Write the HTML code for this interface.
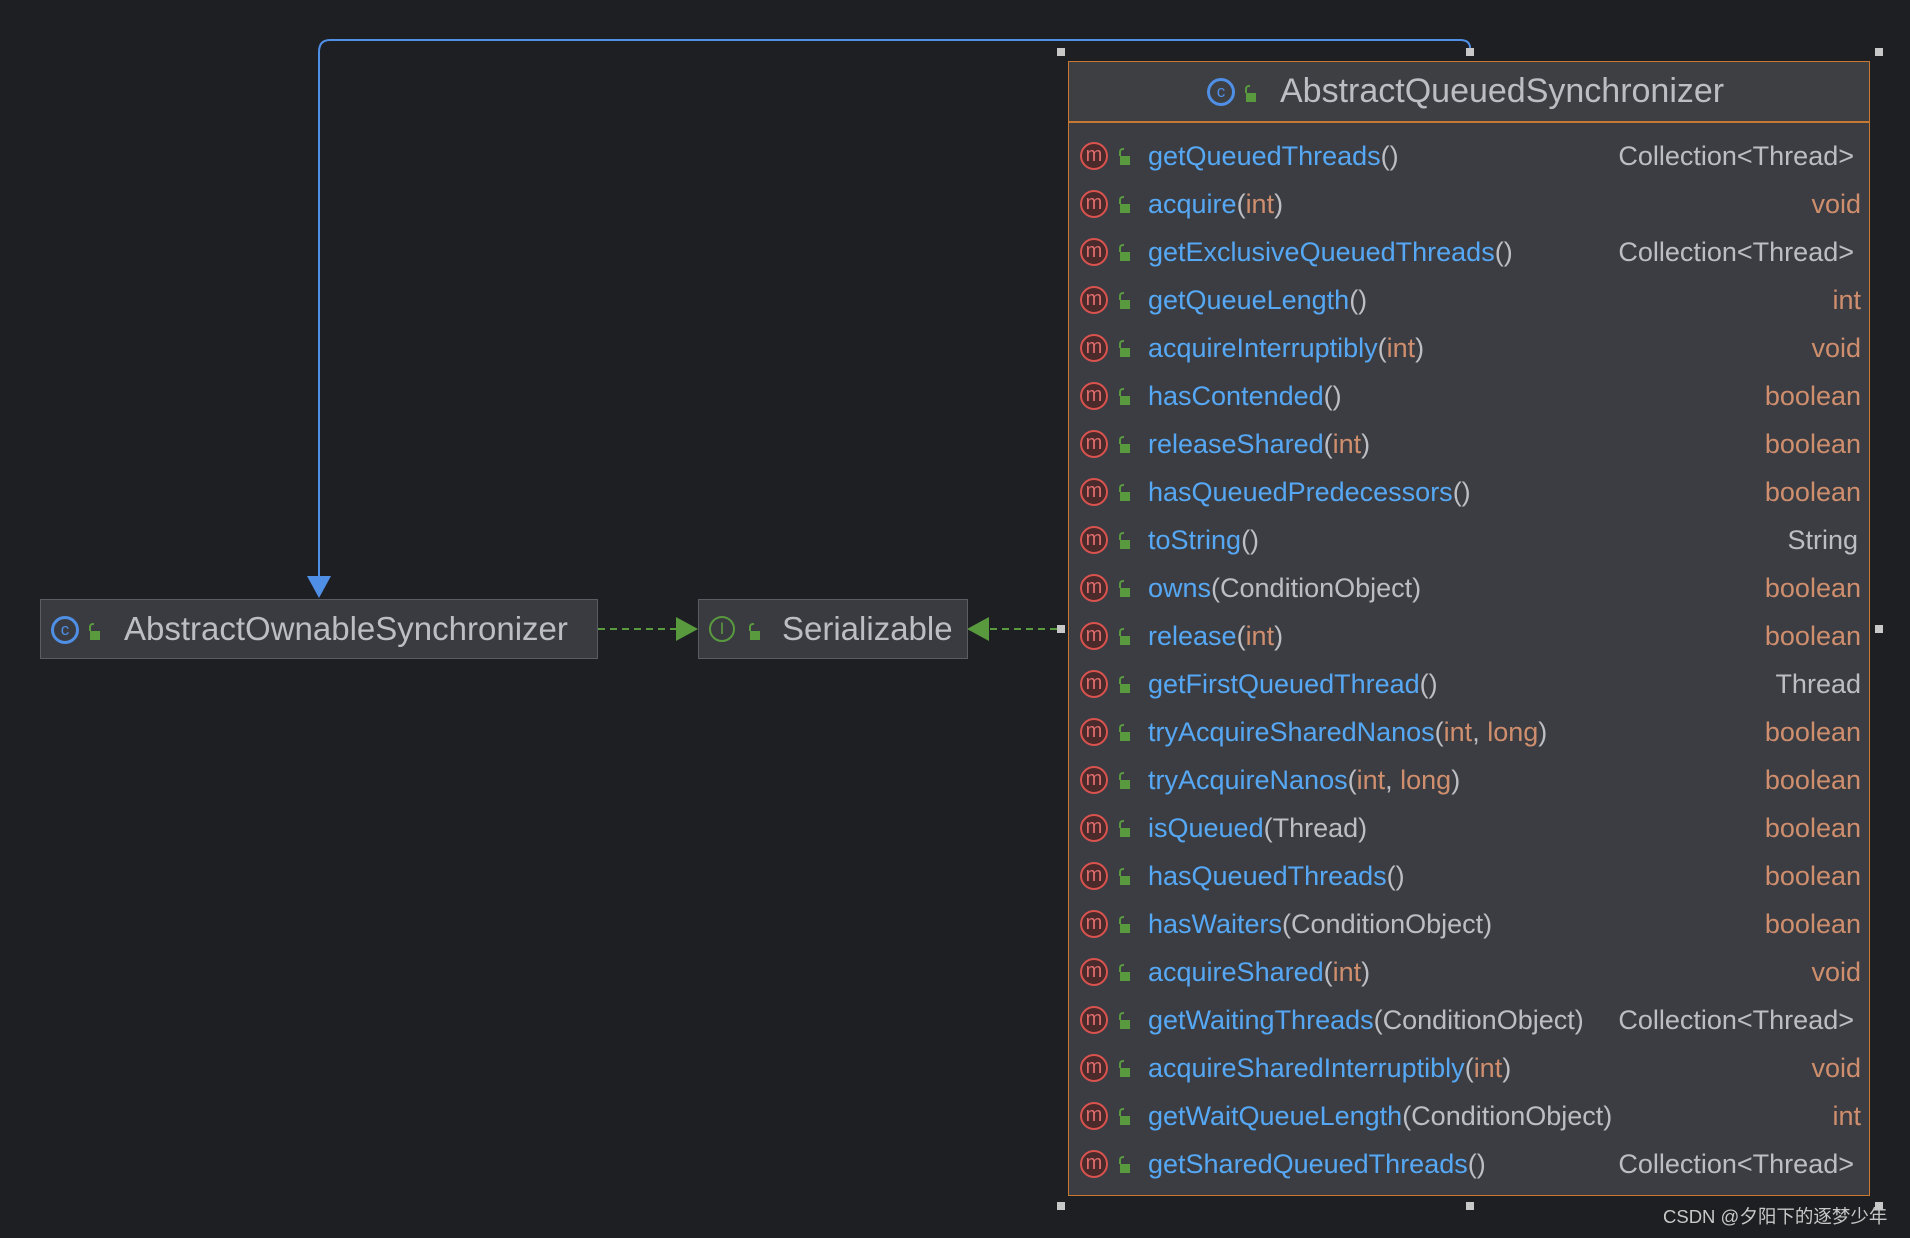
<!DOCTYPE html>
<html><head><meta charset="utf-8"><style>
body{margin:0;width:1910px;height:1238px;background:#1e1f22;overflow:hidden;position:relative;font-family:"Liberation Sans","Noto Sans CJK SC",sans-serif}
.abs{position:absolute}
.box{position:absolute;background:#393b40;border:1px solid #5a5d63;box-sizing:border-box}
.row{position:absolute;left:0;width:100%;height:48px;font-size:27px;line-height:48px;color:#bcbec4}
.m{position:absolute;left:1080px;width:24px;height:24px;border:2px solid #d9534f;border-radius:50%;background:#4a2a2a;color:#e06c6c;font-size:20px;line-height:22px;text-align:center;box-sizing:content-box}
.lk{position:absolute;width:10px;height:9px;background:#5a9a3f}
.lk:before{content:"";position:absolute;left:-1px;top:-8px;width:5px;height:8px;border:2px solid #5a9a3f;border-right:none;border-bottom:none;border-radius:4px 0 0 0;box-sizing:border-box}
.n{color:#56a8f5}.o{color:#cf8e6d}
.t{position:absolute;left:1148px;white-space:nowrap}
.r{position:absolute;right:49px;white-space:nowrap}
.h{position:absolute;width:8px;height:8px;background:#c8c8c8}
</style></head><body>
<svg class="abs" style="left:0;top:0" width="1910" height="1238">
<path d="M1470 52 L1470 48 Q1470 40 1460 40 L330 40 Q319 40 319 52 L319 578" fill="none" stroke="#4f8fe6" stroke-width="2"/>
<polygon points="307,576 331,576 319,598" fill="#4f8fe6"/>
<line x1="598" y1="629" x2="678" y2="629" stroke="#5a9a3f" stroke-width="2" stroke-dasharray="7,5"/>
<polygon points="676,617 698,629 676,641" fill="#5a9a3f"/>
<line x1="990" y1="629" x2="1061" y2="629" stroke="#5a9a3f" stroke-width="2" stroke-dasharray="7,5"/>
<polygon points="989,617 967,629 989,641" fill="#5a9a3f"/>
</svg>

<div class="box" style="left:40px;top:599px;width:558px;height:60px"></div>
<div class="abs" style="left:51px;top:616px;width:22px;height:22px;border:3px solid #4f8fe6;border-radius:50%;color:#4f8fe6;font-size:17px;line-height:22px;text-align:center">c</div>
<div class="lk" style="left:90px;top:631px"></div>
<div class="abs" style="left:124px;top:605px;font-size:33px;line-height:48px;color:#bcbec4">AbstractOwnableSynchronizer</div>

<div class="box" style="left:698px;top:599px;width:270px;height:60px"></div>
<div class="abs" style="left:709px;top:616px;width:22px;height:22px;border:2px solid #5a9a3f;border-radius:50%;color:#5a9a3f;font-size:17px;line-height:22px;text-align:center">I</div>
<div class="lk" style="left:750px;top:631px"></div>
<div class="abs" style="left:782px;top:605px;font-size:33px;line-height:48px;color:#bcbec4">Serializable</div>

<div class="box" style="left:1068px;top:61px;width:802px;height:1135px;border:1px solid #c77832;background:#3b3d42"></div>
<div class="abs" style="left:1069px;top:62px;width:800px;height:59px;background:#3d3f43;border-bottom:2px solid #c77832"></div>
<div class="abs" style="left:1207px;top:78px;width:22px;height:22px;border:3px solid #4f8fe6;border-radius:50%;color:#4f8fe6;font-size:17px;line-height:22px;text-align:center">c</div>
<div class="lk" style="left:1246px;top:93px"></div>
<div class="abs" style="left:1280px;top:69px;font-size:34px;line-height:44px;color:#bcbec4">AbstractQueuedSynchronizer</div>

<div class="abs" style="left:0;top:0;width:1910px;height:1238px">
<div class="row" style="top:132px"><div class="m" style="top:10px">m</div><div class="lk" style="left:1120px;top:24px"></div><span class="t"><span class="n">getQueuedThreads</span>()</span><span class="r" style="right:56px">Collection&lt;Thread&gt;</span></div>
<div class="row" style="top:180px"><div class="m" style="top:10px">m</div><div class="lk" style="left:1120px;top:24px"></div><span class="t"><span class="n">acquire</span>(<span class="o">int</span>)</span><span class="r o">void</span></div>
<div class="row" style="top:228px"><div class="m" style="top:10px">m</div><div class="lk" style="left:1120px;top:24px"></div><span class="t"><span class="n">getExclusiveQueuedThreads</span>()</span><span class="r" style="right:56px">Collection&lt;Thread&gt;</span></div>
<div class="row" style="top:276px"><div class="m" style="top:10px">m</div><div class="lk" style="left:1120px;top:24px"></div><span class="t"><span class="n">getQueueLength</span>()</span><span class="r o">int</span></div>
<div class="row" style="top:324px"><div class="m" style="top:10px">m</div><div class="lk" style="left:1120px;top:24px"></div><span class="t"><span class="n">acquireInterruptibly</span>(<span class="o">int</span>)</span><span class="r o">void</span></div>
<div class="row" style="top:372px"><div class="m" style="top:10px">m</div><div class="lk" style="left:1120px;top:24px"></div><span class="t"><span class="n">hasContended</span>()</span><span class="r o">boolean</span></div>
<div class="row" style="top:420px"><div class="m" style="top:10px">m</div><div class="lk" style="left:1120px;top:24px"></div><span class="t"><span class="n">releaseShared</span>(<span class="o">int</span>)</span><span class="r o">boolean</span></div>
<div class="row" style="top:468px"><div class="m" style="top:10px">m</div><div class="lk" style="left:1120px;top:24px"></div><span class="t"><span class="n">hasQueuedPredecessors</span>()</span><span class="r o">boolean</span></div>
<div class="row" style="top:516px"><div class="m" style="top:10px">m</div><div class="lk" style="left:1120px;top:24px"></div><span class="t"><span class="n">toString</span>()</span><span class="r" style="right:52px">String</span></div>
<div class="row" style="top:564px"><div class="m" style="top:10px">m</div><div class="lk" style="left:1120px;top:24px"></div><span class="t"><span class="n">owns</span>(ConditionObject)</span><span class="r o">boolean</span></div>
<div class="row" style="top:612px"><div class="m" style="top:10px">m</div><div class="lk" style="left:1120px;top:24px"></div><span class="t"><span class="n">release</span>(<span class="o">int</span>)</span><span class="r o">boolean</span></div>
<div class="row" style="top:660px"><div class="m" style="top:10px">m</div><div class="lk" style="left:1120px;top:24px"></div><span class="t"><span class="n">getFirstQueuedThread</span>()</span><span class="r">Thread</span></div>
<div class="row" style="top:708px"><div class="m" style="top:10px">m</div><div class="lk" style="left:1120px;top:24px"></div><span class="t"><span class="n">tryAcquireSharedNanos</span>(<span class="o">int</span>, <span class="o">long</span>)</span><span class="r o">boolean</span></div>
<div class="row" style="top:756px"><div class="m" style="top:10px">m</div><div class="lk" style="left:1120px;top:24px"></div><span class="t"><span class="n">tryAcquireNanos</span>(<span class="o">int</span>, <span class="o">long</span>)</span><span class="r o">boolean</span></div>
<div class="row" style="top:804px"><div class="m" style="top:10px">m</div><div class="lk" style="left:1120px;top:24px"></div><span class="t"><span class="n">isQueued</span>(Thread)</span><span class="r o">boolean</span></div>
<div class="row" style="top:852px"><div class="m" style="top:10px">m</div><div class="lk" style="left:1120px;top:24px"></div><span class="t"><span class="n">hasQueuedThreads</span>()</span><span class="r o">boolean</span></div>
<div class="row" style="top:900px"><div class="m" style="top:10px">m</div><div class="lk" style="left:1120px;top:24px"></div><span class="t"><span class="n">hasWaiters</span>(ConditionObject)</span><span class="r o">boolean</span></div>
<div class="row" style="top:948px"><div class="m" style="top:10px">m</div><div class="lk" style="left:1120px;top:24px"></div><span class="t"><span class="n">acquireShared</span>(<span class="o">int</span>)</span><span class="r o">void</span></div>
<div class="row" style="top:996px"><div class="m" style="top:10px">m</div><div class="lk" style="left:1120px;top:24px"></div><span class="t"><span class="n">getWaitingThreads</span>(ConditionObject)</span><span class="r" style="right:56px">Collection&lt;Thread&gt;</span></div>
<div class="row" style="top:1044px"><div class="m" style="top:10px">m</div><div class="lk" style="left:1120px;top:24px"></div><span class="t"><span class="n">acquireSharedInterruptibly</span>(<span class="o">int</span>)</span><span class="r o">void</span></div>
<div class="row" style="top:1092px"><div class="m" style="top:10px">m</div><div class="lk" style="left:1120px;top:24px"></div><span class="t"><span class="n">getWaitQueueLength</span>(ConditionObject)</span><span class="r o">int</span></div>
<div class="row" style="top:1140px"><div class="m" style="top:10px">m</div><div class="lk" style="left:1120px;top:24px"></div><span class="t"><span class="n">getSharedQueuedThreads</span>()</span><span class="r" style="right:56px">Collection&lt;Thread&gt;</span></div>
</div>

<div class="h" style="left:1057px;top:48px"></div>
<div class="h" style="left:1466px;top:48px"></div>
<div class="h" style="left:1875px;top:48px"></div>
<div class="h" style="left:1057px;top:625px"></div>
<div class="h" style="left:1875px;top:625px"></div>
<div class="h" style="left:1057px;top:1202px"></div>
<div class="h" style="left:1466px;top:1202px"></div>
<div class="h" style="left:1875px;top:1202px"></div>

<div class="abs" style="left:1663px;top:1206px;font-size:18.5px;line-height:22px;color:#c8c8c8;white-space:nowrap">CSDN @夕阳下的逐梦少年</div>
</body></html>
